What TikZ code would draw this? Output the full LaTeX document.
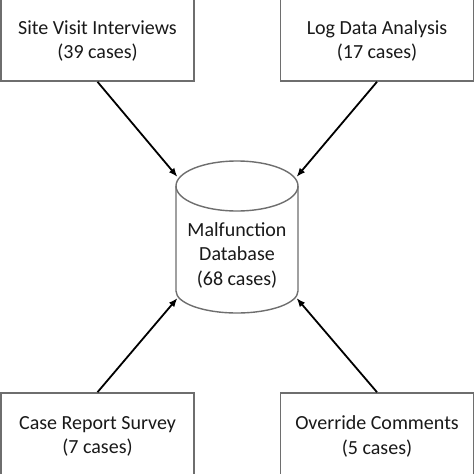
\documentclass[tikz,border=0pt]{standalone}
\usepackage{fontspec}
\setmainfont{Carlito}
\usetikzlibrary{arrows.meta}
\definecolor{edgegrey}{HTML}{6E6E6E}
\tikzset{
  srcbox/.style={draw=edgegrey, line width=1.6pt, fill=white, minimum width=193pt, inner sep=0pt},
  lbl/.style={align=center, font=\fontsize{20}{24.5}\selectfont, text=black!90, inner sep=0pt},
  feed/.style={line width=1.8pt, black, -{Latex[length=9pt,width=7pt]}, shorten >=0pt},
  cyl/.style={draw=edgegrey, line width=1.4pt}
}
\begin{document}
\begin{tikzpicture}[x=1pt,y=-1pt]
\useasboundingbox (0,0) rectangle (474,474);
\clip (0,0) rectangle (474,474);
\fill[white] (0,0) rectangle (474,474);
% boxes
\node[srcbox, minimum height=96pt] (tl) at (97.5,33) {};
\node[srcbox, minimum height=96pt] (tr) at (377,33) {};
\node[srcbox, minimum height=96pt] (bl) at (97.5,441) {};
\node[srcbox, minimum height=96pt] (br) at (377,441) {};
\node[lbl] (tlt) at (97.5,41) {Site Visit Interviews\\(39 cases)};
\node[lbl] (trt) at (377,41) {Log Data Analysis\\(17 cases)};
\node[lbl] (blt) at (97.5,436.5) {Case Report Survey\\(7 cases)};
\node[lbl] (brt) at (377,436.5) {Override Comments\\(5 cases)};
% cylinder
\draw[cyl] (176,186) arc[start angle=180, end angle=360, x radius=61, y radius=25]
  arc[start angle=0, end angle=180, x radius=61, y radius=25] -- cycle;
\draw[cyl] (176,186) -- (176,291) arc[start angle=180, end angle=0, x radius=61, y radius=22] -- (298,186);
\node[lbl] (db) at (237,255) {Malfunction\\Database\\(68 cases)};
\coordinate (dbtl) at (177.5,177);
\coordinate (dbtr) at (296.5,177);
\coordinate (dbbl) at (177.5,298);
\coordinate (dbbr) at (296.5,298);
% connectors
\draw[feed] (tl.south) -- (dbtl);
\draw[feed] (tr.south) -- (dbtr);
\draw[feed] (bl.north) -- (dbbl);
\draw[feed] (br.north) -- (dbbr);
\end{tikzpicture}
\end{document}
